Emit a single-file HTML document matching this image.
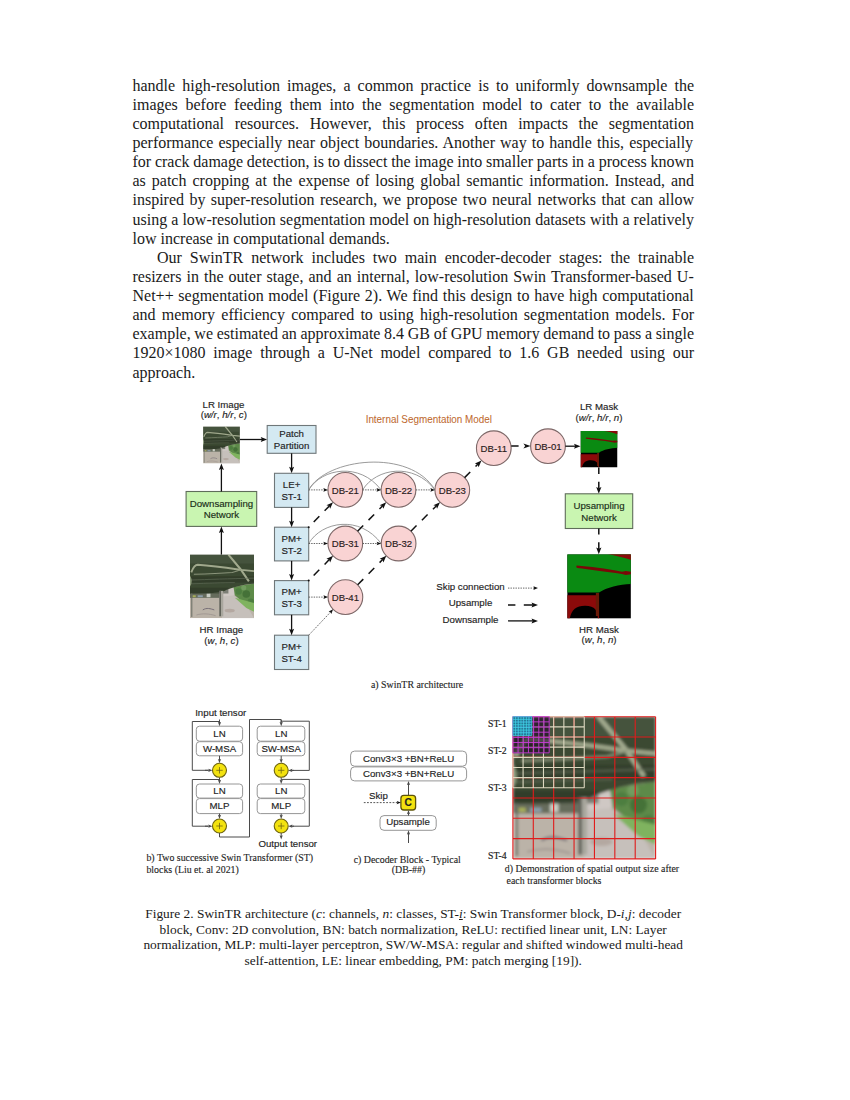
<!DOCTYPE html>
<html><head><meta charset="utf-8">
<style>
html,body{margin:0;padding:0;background:#fff;}
body{width:850px;height:1100px;position:relative;overflow:hidden;}
#txt{position:absolute;left:132.5px;top:0;width:561.5px;}
.ln{position:absolute;left:0;white-space:nowrap;font-family:"Liberation Serif",serif;font-size:16px;line-height:19.13px;color:#1a1a1a;}
#cap{position:absolute;left:0;top:0;width:826.4px;}
.cl{position:absolute;left:0;width:826.4px;text-align:center;white-space:nowrap;font-family:"Liberation Serif",serif;font-size:13.4px;line-height:15.4px;color:#1a1a1a;}
svg{position:absolute;left:0;top:0;}
</style></head><body>
<div id="txt">
<div class="ln" style="top:75.60px;word-spacing:3.052px;">handle high-resolution images, a common practice is to uniformly downsample the</div>
<div class="ln" style="top:94.73px;word-spacing:3.696px;">images before feeding them into the segmentation model to cater to the available</div>
<div class="ln" style="top:113.86px;word-spacing:6.619px;">computational resources. However, this process often impacts the segmentation</div>
<div class="ln" style="top:132.99px;word-spacing:1.06px;">performance especially near object boundaries. Another way to handle this, especially</div>
<div class="ln" style="top:152.12px;word-spacing:-0.244px;">for crack damage detection, is to dissect the image into smaller parts in a process known</div>
<div class="ln" style="top:171.25px;word-spacing:1.99px;">as patch cropping at the expense of losing global semantic information. Instead, and</div>
<div class="ln" style="top:190.38px;word-spacing:1.393px;">inspired by super-resolution research, we propose two neural networks that can allow</div>
<div class="ln" style="top:209.51px;word-spacing:0.073px;">using a low-resolution segmentation model on high-resolution datasets with a relatively</div>
<div class="ln" style="top:228.64px;">low increase in computational demands.</div>
<div class="ln" style="top:247.77px;left:24.5px;word-spacing:3.966px;">Our SwinTR network includes two main encoder-decoder stages: the trainable</div>
<div class="ln" style="top:266.90px;word-spacing:1.081px;">resizers in the outer stage, and an internal, low-resolution Swin Transformer-based U-</div>
<div class="ln" style="top:286.03px;word-spacing:0.701px;">Net++ segmentation model (Figure 2). We find this design to have high computational</div>
<div class="ln" style="top:305.16px;word-spacing:2.188px;">and memory efficiency compared to using high-resolution segmentation models. For</div>
<div class="ln" style="top:324.29px;word-spacing:-0.328px;">example, we estimated an approximate 8.4 GB of GPU memory demand to pass a single</div>
<div class="ln" style="top:343.42px;word-spacing:3.79px;">1920×1080 image through a U-Net model compared to 1.6 GB needed using our</div>
<div class="ln" style="top:362.55px;">approach.</div>
</div>
<div id="cap">
<div class="cl" style="top:906.3px;">Figure 2. SwinTR architecture (<i>c</i>: channels, <i>n</i>: classes, ST-<i style="text-decoration:underline">i</i>: Swin Transformer block, D-<i>i</i>,<i>j</i>: decoder</div>
<div class="cl" style="top:921.7px;">block, Conv: 2D convolution, BN: batch normalization, ReLU: rectified linear unit, LN: Layer</div>
<div class="cl" style="top:937.1px;">normalization, MLP: multi-layer perceptron, SW/W-MSA: regular and shifted windowed multi-head</div>
<div class="cl" style="top:952.5px;">self-attention, LE: linear embedding, PM: patch merging [19]).</div>
</div>
<svg id="fig" width="850" height="1100" viewBox="0 0 850 1100" font-family="Liberation Sans, sans-serif">
<defs>
<filter id="pblur" x="0" y="0" width="1" height="1"><feGaussianBlur stdDeviation="1.1"/></filter>
<linearGradient id="ug" x1="0" y1="0" x2="0" y2="1"><stop offset="0" stop-color="#4c5843"/><stop offset="1" stop-color="#28331f"/></linearGradient>
<symbol id="photo" viewBox="0 0 100 100" preserveAspectRatio="none"><g filter="url(#pblur)">
<rect width="100" height="100" fill="#bbb3a8"/>
<path d="M50,100 L50,62 L64,60 L92,86 L100,100 Z" fill="#c6c0bb"/>
<path d="M52,58 C58,54 64,52 70,51 L70,64 L52,66 Z" fill="#cfc8c4"/>
<path d="M68,51 C80,49 90,47 100,46 L100,88 L92,84 L80,72 L70,64 Z" fill="#5d8a4a"/>
<circle cx="76" cy="58" r="5" fill="#4a7a3c" opacity="0.8"/>
<circle cx="88" cy="62" r="6" fill="#3f6c34" opacity="0.8"/>
<circle cx="95" cy="74" r="5" fill="#4a7a3c" opacity="0.8"/>
<circle cx="84" cy="52" r="4" fill="#7aa466" opacity="0.7"/>
<path d="M70,68 L100,76 L100,90 L88,84 Z" fill="#7fb35e"/>
<rect x="0" y="60" width="46" height="8" fill="#666c5c"/>
<rect x="4" y="64" width="5" height="3" fill="#a9b05a"/>
<rect x="12" y="64" width="8" height="3" fill="#8ea0ac"/>
<rect x="26" y="61" width="6" height="6" fill="#c9cdc4"/>
<path d="M0,0 H100 V46 C84,47 66,51 52,58 C45,60.5 30,61 0,61 Z" fill="#3b4832"/>
<path d="M0,0 H100 V14 H0 Z" fill="#485540" opacity="0.8"/>
<path d="M0,34 H100 V44 H0 Z" fill="#2c3526" opacity="0.55"/>
<path d="M0,52 H60 V61 H0 Z" fill="#2a3323" opacity="0.5"/>
<path d="M2,28 C5,20 8,16 12,16 C40,18 66,22 80,24 L100,26" stroke="#a0a88c" stroke-width="3" fill="none"/>
<path d="M60,0 L79,23 L92,42" stroke="#a2aa8e" stroke-width="3.2" fill="none"/>
<path d="M6,31 C30,30 50,29 66,28 L80,24" stroke="#8a947a" stroke-width="1.6" fill="none"/>
<path d="M0,40 C30,39 60,38 100,37" stroke="#5f6a55" stroke-width="1.1" fill="none"/>
<path d="M0,46 C30,45 50,44 70,44" stroke="#5f6a55" stroke-width="1" fill="none"/>
<path d="M0,33 C3,38 4,44 0,50 Z" fill="#8b9b7b"/>
<path d="M46,57 H52 V97 H46 Z" fill="#a9a79e"/>
<path d="M46,57 H48.2 V97 H46 Z" fill="#55574f"/>
<rect x="2" y="61" width="1.6" height="37" fill="#6a6e64"/>
<path d="M20,87 C26,83 32,85 38,87" stroke="#6e6670" stroke-width="1.4" fill="none"/>
<path d="M10,95 C20,92 30,93 40,96" stroke="#9a908c" stroke-width="1.2" fill="none"/>
<ellipse cx="62" cy="88" rx="8" ry="3" fill="#a89890" opacity="0.6"/>
</g></symbol>
<symbol id="mask" viewBox="0 0 100 100" preserveAspectRatio="none">
<rect width="100" height="100" fill="#000"/>
<path d="M0,0 H100 V46 C82,47 62,51 50,59.5 L0,59.5 Z" fill="#0a8a12"/>
<path d="M64,0 H100 V9 C90,5 75,2 64,0 Z" fill="#8a0a0a"/>
<path d="M15,17.5 C35,19 60,22 86,27 L92,26 L100,27 L100,31 L92,32 L86,30.5 C60,27 35,24 16,21.5 C14,20.5 14,19 15,17.5 Z" fill="#7a0808"/>
<path d="M0,63.5 H50 V100 H48 C48,88 44,80 28,80 C14,80 7,86 4,100 H0 Z" fill="#8c0a0a"/>
<path d="M45,60 H50 V96 H45 Z" fill="#6a1a08"/>
</symbol>
</defs>
<text x="0" y="0" transform="translate(223.50,407.60) scale(1,1.03)" font-size="9.7" fill="#1e1e1e" stroke="#1e1e1e" stroke-width="0.15" text-anchor="middle" >LR Image</text>
<text x="0" y="0" transform="translate(223.80,417.90) scale(1,1.03)" font-size="9.7" fill="#1e1e1e" stroke="#1e1e1e" stroke-width="0.15" text-anchor="middle" >(<tspan font-style="italic">w/r</tspan>, <tspan font-style="italic">h/r</tspan>, <tspan font-style="italic">c</tspan>)</text>
<use href="#photo" x="203.1" y="426.5" width="36.8" height="37"/>
<line x1="240.00" y1="439.50" x2="262.40" y2="439.50" stroke="#111" stroke-width="1.3"/>
<path d="M267.20,439.50 L260.70,442.00 L261.90,439.50 L260.70,437.00 Z" fill="#111"/>
<rect x="267.20" y="425.50" width="48.80" height="27.80" rx="0" fill="#d4e9f2" stroke="#6f7779" stroke-width="1.1"/>
<text x="0" y="0" transform="translate(291.60,436.80) scale(1,1.03)" font-size="9.7" fill="#1e1e1e" stroke="#1e1e1e" stroke-width="0.15" text-anchor="middle" >Patch</text>
<text x="0" y="0" transform="translate(291.60,448.90) scale(1,1.03)" font-size="9.7" fill="#1e1e1e" stroke="#1e1e1e" stroke-width="0.15" text-anchor="middle" >Partition</text>
<line x1="291.60" y1="453.30" x2="291.60" y2="468.50" stroke="#111" stroke-width="1.3"/>
<path d="M291.60,473.30 L289.10,466.80 L291.60,468.00 L294.10,466.80 Z" fill="#111"/>
<rect x="274.50" y="473.30" width="34.20" height="34.10" rx="0" fill="#d4e9f2" stroke="#6f7779" stroke-width="1.1"/>
<text x="0" y="0" transform="translate(291.60,487.60) scale(1,1.03)" font-size="9.7" fill="#1e1e1e" stroke="#1e1e1e" stroke-width="0.15" text-anchor="middle" >LE+</text>
<text x="0" y="0" transform="translate(291.60,499.80) scale(1,1.03)" font-size="9.7" fill="#1e1e1e" stroke="#1e1e1e" stroke-width="0.15" text-anchor="middle" >ST-1</text>
<rect x="274.50" y="527.20" width="34.20" height="33.70" rx="0" fill="#d4e9f2" stroke="#6f7779" stroke-width="1.1"/>
<text x="0" y="0" transform="translate(291.60,541.50) scale(1,1.03)" font-size="9.7" fill="#1e1e1e" stroke="#1e1e1e" stroke-width="0.15" text-anchor="middle" >PM+</text>
<text x="0" y="0" transform="translate(291.60,553.70) scale(1,1.03)" font-size="9.7" fill="#1e1e1e" stroke="#1e1e1e" stroke-width="0.15" text-anchor="middle" >ST-2</text>
<rect x="274.50" y="580.60" width="34.20" height="34.20" rx="0" fill="#d4e9f2" stroke="#6f7779" stroke-width="1.1"/>
<text x="0" y="0" transform="translate(291.60,594.90) scale(1,1.03)" font-size="9.7" fill="#1e1e1e" stroke="#1e1e1e" stroke-width="0.15" text-anchor="middle" >PM+</text>
<text x="0" y="0" transform="translate(291.60,607.10) scale(1,1.03)" font-size="9.7" fill="#1e1e1e" stroke="#1e1e1e" stroke-width="0.15" text-anchor="middle" >ST-3</text>
<rect x="274.50" y="635.20" width="34.20" height="34.30" rx="0" fill="#d4e9f2" stroke="#6f7779" stroke-width="1.1"/>
<text x="0" y="0" transform="translate(291.60,649.50) scale(1,1.03)" font-size="9.7" fill="#1e1e1e" stroke="#1e1e1e" stroke-width="0.15" text-anchor="middle" >PM+</text>
<text x="0" y="0" transform="translate(291.60,661.70) scale(1,1.03)" font-size="9.7" fill="#1e1e1e" stroke="#1e1e1e" stroke-width="0.15" text-anchor="middle" >ST-4</text>
<line x1="291.60" y1="507.40" x2="291.60" y2="522.40" stroke="#111" stroke-width="1.3"/>
<path d="M291.60,527.20 L289.10,520.70 L291.60,521.90 L294.10,520.70 Z" fill="#111"/>
<line x1="291.60" y1="560.90" x2="291.60" y2="575.80" stroke="#111" stroke-width="1.3"/>
<path d="M291.60,580.60 L289.10,574.10 L291.60,575.30 L294.10,574.10 Z" fill="#111"/>
<line x1="291.60" y1="614.80" x2="291.60" y2="630.40" stroke="#111" stroke-width="1.3"/>
<path d="M291.60,635.20 L289.10,628.70 L291.60,629.90 L294.10,628.70 Z" fill="#111"/>
<rect x="186.10" y="491.50" width="70.60" height="34.90" rx="0" fill="#c9f5b1" stroke="#5f6d5a" stroke-width="1.1"/>
<text x="0" y="0" transform="translate(221.40,506.60) scale(1,1.03)" font-size="9.7" fill="#1a2e18" stroke="#1a2e18" stroke-width="0.15" text-anchor="middle" >Downsampling</text>
<text x="0" y="0" transform="translate(221.40,518.40) scale(1,1.03)" font-size="9.7" fill="#1a2e18" stroke="#1a2e18" stroke-width="0.15" text-anchor="middle" >Network</text>
<line x1="221.40" y1="491.50" x2="221.40" y2="468.30" stroke="#111" stroke-width="1.3"/>
<path d="M221.40,463.50 L223.90,470.00 L221.40,468.80 L218.90,470.00 Z" fill="#111"/>
<use href="#photo" x="190" y="554.6" width="64" height="63.6"/>
<line x1="221.40" y1="554.60" x2="221.40" y2="531.20" stroke="#111" stroke-width="1.3"/>
<path d="M221.40,526.40 L223.90,532.90 L221.40,531.70 L218.90,532.90 Z" fill="#111"/>
<text x="0" y="0" transform="translate(221.40,633.40) scale(1,1.03)" font-size="9.7" fill="#1e1e1e" stroke="#1e1e1e" stroke-width="0.15" text-anchor="middle" >HR Image</text>
<text x="0" y="0" transform="translate(221.40,644.00) scale(1,1.03)" font-size="9.7" fill="#1e1e1e" stroke="#1e1e1e" stroke-width="0.15" text-anchor="middle" >(<tspan font-style="italic">w</tspan>, <tspan font-style="italic">h</tspan>, <tspan font-style="italic">c</tspan>)</text>
<path d="M308.7,489.9 C326,458 410,448 435,489.9" stroke="#959595" stroke-width="0.95" fill="none"/>
<path d="M308.7,489.9 C322,468 360,462 381.1,489.9" stroke="#959595" stroke-width="0.95" fill="none"/>
<path d="M362.6,489.9 C376,468 414,462 435,489.9" stroke="#959595" stroke-width="0.95" fill="none"/>
<path d="M308.7,543.5 C322,521 360,515 381.2,543.5" stroke="#959595" stroke-width="0.95" fill="none"/>
<circle cx="345.30" cy="489.90" r="17.35" fill="#f9d3d3" stroke="#7d6868" stroke-width="1.1"/>
<text x="0" y="0" transform="translate(345.30,493.50) scale(1,1.03)" font-size="9.6" fill="#2a1c1c" stroke="#2a1c1c" stroke-width="0.15" text-anchor="middle" >DB-21</text>
<circle cx="398.50" cy="489.90" r="17.35" fill="#f9d3d3" stroke="#7d6868" stroke-width="1.1"/>
<text x="0" y="0" transform="translate(398.50,493.50) scale(1,1.03)" font-size="9.6" fill="#2a1c1c" stroke="#2a1c1c" stroke-width="0.15" text-anchor="middle" >DB-22</text>
<circle cx="452.30" cy="489.90" r="17.35" fill="#f9d3d3" stroke="#7d6868" stroke-width="1.1"/>
<text x="0" y="0" transform="translate(452.30,493.50) scale(1,1.03)" font-size="9.6" fill="#2a1c1c" stroke="#2a1c1c" stroke-width="0.15" text-anchor="middle" >DB-23</text>
<circle cx="345.30" cy="543.50" r="17.35" fill="#f9d3d3" stroke="#7d6868" stroke-width="1.1"/>
<text x="0" y="0" transform="translate(345.30,547.10) scale(1,1.03)" font-size="9.6" fill="#2a1c1c" stroke="#2a1c1c" stroke-width="0.15" text-anchor="middle" >DB-31</text>
<circle cx="398.60" cy="543.50" r="17.35" fill="#f9d3d3" stroke="#7d6868" stroke-width="1.1"/>
<text x="0" y="0" transform="translate(398.60,547.10) scale(1,1.03)" font-size="9.6" fill="#2a1c1c" stroke="#2a1c1c" stroke-width="0.15" text-anchor="middle" >DB-32</text>
<circle cx="345.40" cy="597.10" r="17.35" fill="#f9d3d3" stroke="#7d6868" stroke-width="1.1"/>
<text x="0" y="0" transform="translate(345.40,600.70) scale(1,1.03)" font-size="9.6" fill="#2a1c1c" stroke="#2a1c1c" stroke-width="0.15" text-anchor="middle" >DB-41</text>
<circle cx="493.80" cy="448.20" r="17.35" fill="#f9d3d3" stroke="#7d6868" stroke-width="1.1"/>
<text x="0" y="0" transform="translate(493.80,451.80) scale(1,1.03)" font-size="9.6" fill="#2a1c1c" stroke="#2a1c1c" stroke-width="0.15" text-anchor="middle" >DB-11</text>
<circle cx="548.00" cy="446.20" r="17.35" fill="#f9d3d3" stroke="#7d6868" stroke-width="1.1"/>
<text x="0" y="0" transform="translate(548.00,449.80) scale(1,1.03)" font-size="9.6" fill="#2a1c1c" stroke="#2a1c1c" stroke-width="0.15" text-anchor="middle" >DB-01</text>
<line x1="308.70" y1="489.90" x2="324.35" y2="489.90" stroke="#4a4a4a" stroke-width="0.85" stroke-dasharray="1.4 1.1"/>
<path d="M327.95,489.90 L323.35,491.70 L324.15,489.90 L323.35,488.10 Z" fill="#111"/>
<line x1="362.65" y1="489.90" x2="377.55" y2="489.90" stroke="#4a4a4a" stroke-width="0.85" stroke-dasharray="1.4 1.1"/>
<path d="M381.15,489.90 L376.55,491.70 L377.35,489.90 L376.55,488.10 Z" fill="#111"/>
<line x1="415.85" y1="489.90" x2="431.35" y2="489.90" stroke="#4a4a4a" stroke-width="0.85" stroke-dasharray="1.4 1.1"/>
<path d="M434.95,489.90 L430.35,491.70 L431.15,489.90 L430.35,488.10 Z" fill="#111"/>
<line x1="308.70" y1="543.50" x2="324.35" y2="543.50" stroke="#4a4a4a" stroke-width="0.85" stroke-dasharray="1.4 1.1"/>
<path d="M327.95,543.50 L323.35,545.30 L324.15,543.50 L323.35,541.70 Z" fill="#111"/>
<line x1="362.65" y1="543.50" x2="377.65" y2="543.50" stroke="#4a4a4a" stroke-width="0.85" stroke-dasharray="1.4 1.1"/>
<path d="M381.25,543.50 L376.65,545.30 L377.45,543.50 L376.65,541.70 Z" fill="#111"/>
<line x1="308.70" y1="597.10" x2="324.45" y2="597.10" stroke="#4a4a4a" stroke-width="0.85" stroke-dasharray="1.4 1.1"/>
<path d="M328.05,597.10 L323.45,598.90 L324.25,597.10 L323.45,595.30 Z" fill="#111"/>
<line x1="308.70" y1="635.20" x2="330.66" y2="611.98" stroke="#4a4a4a" stroke-width="0.85" stroke-dasharray="1.4 1.1"/>
<path d="M333.13,609.37 L331.28,613.95 L330.52,612.13 L328.66,611.47 Z" fill="#111"/>
<circle cx="308.7" cy="527.2" r="1" fill="#111"/><circle cx="308.7" cy="580.6" r="1" fill="#111"/>
<line x1="313.74" y1="522.02" x2="319.31" y2="516.28" stroke="#111" stroke-width="1.5"/>
<line x1="324.61" y1="510.83" x2="329.34" y2="505.97" stroke="#111" stroke-width="1.5"/>
<path d="M333.03,502.17 L330.16,508.86 L329.20,506.11 L326.43,505.23 Z" fill="#111"/>
<line x1="313.66" y1="575.54" x2="319.26" y2="569.82" stroke="#111" stroke-width="1.5"/>
<line x1="324.58" y1="564.40" x2="329.32" y2="559.55" stroke="#111" stroke-width="1.5"/>
<path d="M333.03,555.77 L330.13,562.44 L329.18,559.70 L326.42,558.81 Z" fill="#111"/>
<line x1="357.57" y1="531.23" x2="363.19" y2="525.54" stroke="#111" stroke-width="1.5"/>
<line x1="368.52" y1="520.12" x2="374.14" y2="514.43" stroke="#111" stroke-width="1.5"/>
<line x1="379.48" y1="509.02" x2="382.51" y2="505.94" stroke="#111" stroke-width="1.5"/>
<path d="M386.23,502.17 L383.31,508.84 L382.37,506.08 L379.61,505.18 Z" fill="#111"/>
<line x1="357.67" y1="584.83" x2="363.29" y2="579.14" stroke="#111" stroke-width="1.5"/>
<line x1="368.62" y1="573.72" x2="374.24" y2="568.03" stroke="#111" stroke-width="1.5"/>
<line x1="379.58" y1="562.62" x2="382.61" y2="559.54" stroke="#111" stroke-width="1.5"/>
<path d="M386.33,555.77 L383.41,562.44 L382.47,559.68 L379.71,558.78 Z" fill="#111"/>
<line x1="410.87" y1="531.23" x2="416.53" y2="525.58" stroke="#111" stroke-width="1.5"/>
<line x1="421.92" y1="520.22" x2="427.58" y2="514.57" stroke="#111" stroke-width="1.5"/>
<line x1="432.97" y1="509.21" x2="436.28" y2="505.91" stroke="#111" stroke-width="1.5"/>
<path d="M440.03,502.17 L437.05,508.81 L436.14,506.05 L433.38,505.13 Z" fill="#111"/>
<line x1="464.57" y1="477.63" x2="470.19" y2="471.94" stroke="#111" stroke-width="1.5"/>
<line x1="475.53" y1="466.54" x2="477.81" y2="464.24" stroke="#111" stroke-width="1.5"/>
<path d="M481.53,460.47 L478.60,467.13 L477.67,464.38 L474.90,463.48 Z" fill="#111"/>
<line x1="511.2" y1="446.0" x2="518.6" y2="446.0" stroke="#111" stroke-width="1.5"/>
<path d="M530.60,446.00 L523.40,448.60 L525.20,446.00 L523.40,443.40 Z" fill="#111"/>
<line x1="565.35" y1="446.20" x2="575.70" y2="446.20" stroke="#111" stroke-width="1.3"/>
<path d="M580.50,446.20 L574.00,448.70 L575.20,446.20 L574.00,443.70 Z" fill="#111"/>
<text x="0" y="0" transform="translate(428.80,423.30) scale(1,1.03)" font-size="9.9" fill="#c06a30" stroke="#c06a30" stroke-width="0.05" text-anchor="middle" >Internal Segmentation Model</text>
<text x="0" y="0" transform="translate(599.00,409.80) scale(1,1.03)" font-size="9.7" fill="#1e1e1e" stroke="#1e1e1e" stroke-width="0.15" text-anchor="middle" >LR Mask</text>
<text x="0" y="0" transform="translate(599.00,420.60) scale(1,1.03)" font-size="9.7" fill="#1e1e1e" stroke="#1e1e1e" stroke-width="0.15" text-anchor="middle" >(<tspan font-style="italic">w/r</tspan>, <tspan font-style="italic">h/r</tspan>, <tspan font-style="italic">n</tspan>)</text>
<use href="#mask" x="580.5" y="431" width="37" height="36.5"/>
<line x1="598.80" y1="467.50" x2="598.80" y2="474.12" stroke="#111" stroke-width="1.5"/>
<line x1="598.80" y1="481.72" x2="598.80" y2="488.50" stroke="#111" stroke-width="1.5"/>
<path d="M598.80,493.80 L596.20,487.00 L598.80,488.30 L601.40,487.00 Z" fill="#111"/>
<rect x="565.30" y="493.80" width="67.40" height="34.70" rx="0" fill="#c9f5b1" stroke="#5f6d5a" stroke-width="1.1"/>
<text x="0" y="0" transform="translate(599.00,508.80) scale(1,1.03)" font-size="9.7" fill="#1a2e18" stroke="#1a2e18" stroke-width="0.15" text-anchor="middle" >Upsampling</text>
<text x="0" y="0" transform="translate(599.00,520.60) scale(1,1.03)" font-size="9.7" fill="#1a2e18" stroke="#1a2e18" stroke-width="0.15" text-anchor="middle" >Network</text>
<line x1="598.80" y1="528.50" x2="598.80" y2="534.62" stroke="#111" stroke-width="1.5"/>
<line x1="598.80" y1="542.22" x2="598.80" y2="549.00" stroke="#111" stroke-width="1.5"/>
<path d="M598.80,554.30 L596.20,547.50 L598.80,548.80 L601.40,547.50 Z" fill="#111"/>
<use href="#mask" x="567.2" y="554.3" width="63.7" height="64.3"/>
<text x="0" y="0" transform="translate(599.00,632.90) scale(1,1.03)" font-size="9.7" fill="#1e1e1e" stroke="#1e1e1e" stroke-width="0.15" text-anchor="middle" >HR Mask</text>
<text x="0" y="0" transform="translate(599.00,642.50) scale(1,1.03)" font-size="9.7" fill="#1e1e1e" stroke="#1e1e1e" stroke-width="0.15" text-anchor="middle" >(<tspan font-style="italic">w</tspan>, <tspan font-style="italic">h</tspan>, <tspan font-style="italic">n</tspan>)</text>
<text x="0" y="0" transform="translate(470.50,590.10) scale(1,1.03)" font-size="9.7" fill="#1e1e1e" stroke="#1e1e1e" stroke-width="0.15" text-anchor="middle" >Skip connection</text>
<text x="0" y="0" transform="translate(470.50,606.00) scale(1,1.03)" font-size="9.7" fill="#1e1e1e" stroke="#1e1e1e" stroke-width="0.15" text-anchor="middle" >Upsample</text>
<text x="0" y="0" transform="translate(470.50,622.60) scale(1,1.03)" font-size="9.7" fill="#1e1e1e" stroke="#1e1e1e" stroke-width="0.15" text-anchor="middle" >Downsample</text>
<line x1="508.00" y1="588.10" x2="534.40" y2="588.10" stroke="#4a4a4a" stroke-width="0.85" stroke-dasharray="1.4 1.1"/>
<path d="M538.00,588.10 L533.40,589.90 L534.20,588.10 L533.40,586.30 Z" fill="#111"/>
<line x1="508" y1="605" x2="515.4" y2="605" stroke="#111" stroke-width="1.5"/>
<line x1="523.80" y1="605.00" x2="533.20" y2="605.00" stroke="#111" stroke-width="1.5"/>
<path d="M538.00,605.00 L531.50,607.50 L532.70,605.00 L531.50,602.50 Z" fill="#111"/>
<line x1="508.00" y1="620.90" x2="533.20" y2="620.90" stroke="#111" stroke-width="1.3"/>
<path d="M538.00,620.90 L531.50,623.40 L532.70,620.90 L531.50,618.40 Z" fill="#111"/>
<text x="417" y="687.8" font-size="9.9" fill="#1e1e1e" stroke="#1e1e1e" stroke-width="0.12" text-anchor="middle" font-family="Liberation Serif, serif">a) SwinTR architecture</text>
<text x="0" y="0" transform="translate(220.75,716.30) scale(1,1.03)" font-size="9.7" fill="#1e1e1e" stroke="#1e1e1e" stroke-width="0.15" text-anchor="middle" >Input tensor</text>
<rect x="196.30" y="726.20" width="46.30" height="15.00" rx="3.2" fill="#fff" stroke="#969696" stroke-width="1"/>
<rect x="196.30" y="741.70" width="46.30" height="14.10" rx="3.2" fill="#fff" stroke="#969696" stroke-width="1"/>
<text x="0" y="0" transform="translate(219.50,736.50) scale(1,1.03)" font-size="9.7" fill="#1e1e1e" stroke="#1e1e1e" stroke-width="0.15" text-anchor="middle" >LN</text>
<text x="0" y="0" transform="translate(219.50,751.60) scale(1,1.03)" font-size="9.7" fill="#1e1e1e" stroke="#1e1e1e" stroke-width="0.15" text-anchor="middle" >W-MSA</text>
<rect x="196.30" y="784.00" width="46.30" height="14.10" rx="3.2" fill="#fff" stroke="#969696" stroke-width="1"/>
<rect x="196.30" y="798.60" width="46.30" height="15.00" rx="3.2" fill="#fff" stroke="#969696" stroke-width="1"/>
<text x="0" y="0" transform="translate(219.50,794.40) scale(1,1.03)" font-size="9.7" fill="#1e1e1e" stroke="#1e1e1e" stroke-width="0.15" text-anchor="middle" >LN</text>
<text x="0" y="0" transform="translate(219.50,809.40) scale(1,1.03)" font-size="9.7" fill="#1e1e1e" stroke="#1e1e1e" stroke-width="0.15" text-anchor="middle" >MLP</text>
<line x1="219.50" y1="755.80" x2="219.50" y2="760.20" stroke="#4a4a4a" stroke-width="1.0"/>
<path d="M219.50,763.30 L217.90,759.10 L219.50,759.70 L221.10,759.10 Z" fill="#4a4a4a"/>
<line x1="219.50" y1="777.30" x2="219.50" y2="780.90" stroke="#4a4a4a" stroke-width="1.0"/>
<path d="M219.50,784.00 L217.90,779.80 L219.50,780.40 L221.10,779.80 Z" fill="#4a4a4a"/>
<line x1="219.50" y1="813.60" x2="219.50" y2="815.90" stroke="#4a4a4a" stroke-width="1.0"/>
<path d="M219.50,819.00 L217.90,814.80 L219.50,815.40 L221.10,814.80 Z" fill="#4a4a4a"/>
<circle cx="219.5" cy="770.3" r="7.0" fill="#f3e20f" stroke="#6e6410" stroke-width="1.1"/>
<path d="M216.3,770.3 H222.7 M219.5,767.0999999999999 V773.5" stroke="#6e6410" stroke-width="0.8"/>
<circle cx="219.5" cy="826.0" r="7.0" fill="#f3e20f" stroke="#6e6410" stroke-width="1.1"/>
<path d="M216.3,826.0 H222.7 M219.5,822.8 V829.2" stroke="#6e6410" stroke-width="0.8"/>
<rect x="257.20" y="726.20" width="47.60" height="15.00" rx="3.2" fill="#fff" stroke="#969696" stroke-width="1"/>
<rect x="257.20" y="741.70" width="47.60" height="14.10" rx="3.2" fill="#fff" stroke="#969696" stroke-width="1"/>
<text x="0" y="0" transform="translate(281.20,736.50) scale(1,1.03)" font-size="9.7" fill="#1e1e1e" stroke="#1e1e1e" stroke-width="0.15" text-anchor="middle" >LN</text>
<text x="0" y="0" transform="translate(281.20,751.60) scale(1,1.03)" font-size="9.7" fill="#1e1e1e" stroke="#1e1e1e" stroke-width="0.15" text-anchor="middle" >SW-MSA</text>
<rect x="257.20" y="784.00" width="47.60" height="14.10" rx="3.2" fill="#fff" stroke="#969696" stroke-width="1"/>
<rect x="257.20" y="798.60" width="47.60" height="15.00" rx="3.2" fill="#fff" stroke="#969696" stroke-width="1"/>
<text x="0" y="0" transform="translate(281.20,794.40) scale(1,1.03)" font-size="9.7" fill="#1e1e1e" stroke="#1e1e1e" stroke-width="0.15" text-anchor="middle" >LN</text>
<text x="0" y="0" transform="translate(281.20,809.40) scale(1,1.03)" font-size="9.7" fill="#1e1e1e" stroke="#1e1e1e" stroke-width="0.15" text-anchor="middle" >MLP</text>
<line x1="281.20" y1="755.80" x2="281.20" y2="760.20" stroke="#4a4a4a" stroke-width="1.0"/>
<path d="M281.20,763.30 L279.60,759.10 L281.20,759.70 L282.80,759.10 Z" fill="#4a4a4a"/>
<line x1="281.20" y1="777.30" x2="281.20" y2="780.90" stroke="#4a4a4a" stroke-width="1.0"/>
<path d="M281.20,784.00 L279.60,779.80 L281.20,780.40 L282.80,779.80 Z" fill="#4a4a4a"/>
<line x1="281.20" y1="813.60" x2="281.20" y2="815.90" stroke="#4a4a4a" stroke-width="1.0"/>
<path d="M281.20,819.00 L279.60,814.80 L281.20,815.40 L282.80,814.80 Z" fill="#4a4a4a"/>
<circle cx="281.2" cy="770.3" r="7.0" fill="#f3e20f" stroke="#6e6410" stroke-width="1.1"/>
<path d="M278.0,770.3 H284.4 M281.2,767.0999999999999 V773.5" stroke="#6e6410" stroke-width="0.8"/>
<circle cx="281.2" cy="826.0" r="7.0" fill="#f3e20f" stroke="#6e6410" stroke-width="1.1"/>
<path d="M278.0,826.0 H284.4 M281.2,822.8 V829.2" stroke="#6e6410" stroke-width="0.8"/>
<polyline points="219.50,719.50 219.50,721.50 192.30,721.50 192.30,770.30 208.00,770.30" fill="none" stroke="#4a4a4a" stroke-width="1.0"/>
<line x1="205.00" y1="770.30" x2="209.40" y2="770.30" stroke="#4a4a4a" stroke-width="1.0"/>
<path d="M212.50,770.30 L208.30,771.90 L208.90,770.30 L208.30,768.70 Z" fill="#4a4a4a"/>
<line x1="219.50" y1="721.00" x2="219.50" y2="723.10" stroke="#4a4a4a" stroke-width="1.0"/>
<path d="M219.50,726.20 L217.90,722.00 L219.50,722.60 L221.10,722.00 Z" fill="#4a4a4a"/>
<polyline points="219.50,779.50 192.30,779.50 192.30,826.20 208.00,826.20" fill="none" stroke="#4a4a4a" stroke-width="1.0"/>
<line x1="205.00" y1="826.20" x2="209.40" y2="826.20" stroke="#4a4a4a" stroke-width="1.0"/>
<path d="M212.50,826.20 L208.30,827.80 L208.90,826.20 L208.30,824.60 Z" fill="#4a4a4a"/>
<polyline points="219.50,833.00 219.50,837.00 249.50,837.00 249.50,719.50 281.20,719.50 281.20,722.00" fill="none" stroke="#4a4a4a" stroke-width="1.0"/>
<line x1="281.20" y1="720.00" x2="281.20" y2="723.10" stroke="#4a4a4a" stroke-width="1.0"/>
<path d="M281.20,726.20 L279.60,722.00 L281.20,722.60 L282.80,722.00 Z" fill="#4a4a4a"/>
<polyline points="281.20,721.20 309.30,721.20 309.30,770.40 292.00,770.40" fill="none" stroke="#4a4a4a" stroke-width="1.0"/>
<line x1="294.00" y1="770.40" x2="291.30" y2="770.40" stroke="#4a4a4a" stroke-width="1.0"/>
<path d="M288.20,770.40 L292.40,768.80 L291.80,770.40 L292.40,772.00 Z" fill="#4a4a4a"/>
<polyline points="281.20,779.40 309.30,779.40 309.30,826.20 292.00,826.20" fill="none" stroke="#4a4a4a" stroke-width="1.0"/>
<line x1="294.00" y1="826.20" x2="291.30" y2="826.20" stroke="#4a4a4a" stroke-width="1.0"/>
<path d="M288.20,826.20 L292.40,824.60 L291.80,826.20 L292.40,827.80 Z" fill="#4a4a4a"/>
<line x1="281.20" y1="833.00" x2="281.20" y2="836.40" stroke="#4a4a4a" stroke-width="1.0"/>
<path d="M281.20,839.50 L279.60,835.30 L281.20,835.90 L282.80,835.30 Z" fill="#4a4a4a"/>
<text x="0" y="0" transform="translate(287.75,846.70) scale(1,1.03)" font-size="9.7" fill="#1e1e1e" stroke="#1e1e1e" stroke-width="0.15" text-anchor="middle" >Output tensor</text>
<text x="146.4" y="860.8" font-size="9.9" fill="#1e1e1e" stroke="#1e1e1e" stroke-width="0.12" font-family="Liberation Serif, serif">b) Two successive Swin Transformer (ST)</text>
<text x="146.4" y="872.9" font-size="9.9" fill="#1e1e1e" stroke="#1e1e1e" stroke-width="0.12" font-family="Liberation Serif, serif">blocks (Liu et. al 2021)</text>
<rect x="350.60" y="751.10" width="116.00" height="15.10" rx="4" fill="#fff" stroke="#969696" stroke-width="1"/>
<rect x="350.60" y="766.90" width="116.00" height="14.00" rx="4" fill="#fff" stroke="#969696" stroke-width="1"/>
<text x="0" y="0" transform="translate(408.60,761.50) scale(1,1.03)" font-size="9.7" fill="#1e1e1e" stroke="#1e1e1e" stroke-width="0.15" text-anchor="middle" >Conv3×3 +BN+ReLU</text>
<text x="0" y="0" transform="translate(408.60,776.50) scale(1,1.03)" font-size="9.7" fill="#1e1e1e" stroke="#1e1e1e" stroke-width="0.15" text-anchor="middle" >Conv3×3 +BN+ReLU</text>
<line x1="408.50" y1="795.40" x2="408.50" y2="784.00" stroke="#4a4a4a" stroke-width="1.0"/>
<path d="M408.50,780.90 L410.10,785.10 L408.50,784.50 L406.90,785.10 Z" fill="#4a4a4a"/>
<rect x="400.9" y="795.4" width="14.7" height="14.6" rx="3" fill="#f3e20f" stroke="#5e5408" stroke-width="1.3"/>
<text x="0" y="0" transform="translate(408.30,806.40) scale(1,1.03)" font-size="10.2" fill="#222" stroke="#222" stroke-width="0.15" text-anchor="middle" font-weight="bold">C</text>
<text x="0" y="0" transform="translate(378.40,798.50) scale(1,1.03)" font-size="9.7" fill="#1e1e1e" stroke="#1e1e1e" stroke-width="0.15" text-anchor="middle" >Skip</text>
<line x1="363.80" y1="802.60" x2="397.70" y2="802.60" stroke="#444" stroke-width="0.9" stroke-dasharray="1.8 1.4"/>
<path d="M400.90,802.60 L396.70,804.20 L397.50,802.60 L396.70,801.00 Z" fill="#111"/>
<rect x="380.00" y="815.60" width="56.20" height="14.70" rx="4" fill="#fff" stroke="#969696" stroke-width="1"/>
<text x="0" y="0" transform="translate(408.00,825.00) scale(1,1.03)" font-size="9.7" fill="#1e1e1e" stroke="#1e1e1e" stroke-width="0.15" text-anchor="middle" >Upsample</text>
<line x1="408.50" y1="815.60" x2="408.50" y2="813.10" stroke="#4a4a4a" stroke-width="1.0"/>
<path d="M408.50,810.00 L410.10,814.20 L408.50,813.60 L406.90,814.20 Z" fill="#4a4a4a"/>
<line x1="408.50" y1="843.00" x2="408.50" y2="833.40" stroke="#4a4a4a" stroke-width="1.0"/>
<path d="M408.50,830.30 L410.10,834.50 L408.50,833.90 L406.90,834.50 Z" fill="#4a4a4a"/>
<text x="407.3" y="862.6" font-size="9.9" fill="#1e1e1e" stroke="#1e1e1e" stroke-width="0.12" text-anchor="middle" font-family="Liberation Serif, serif">c) Decoder Block - Typical</text>
<text x="408.5" y="873.4" font-size="9.9" fill="#1e1e1e" stroke="#1e1e1e" stroke-width="0.12" text-anchor="middle" font-family="Liberation Serif, serif">(DB-##)</text>
<text x="488" y="726.9" font-size="9.7" fill="#1e1e1e" stroke="#1e1e1e" stroke-width="0.2" font-family="Liberation Serif, serif">ST-1</text>
<text x="488" y="753.9" font-size="9.7" fill="#1e1e1e" stroke="#1e1e1e" stroke-width="0.2" font-family="Liberation Serif, serif">ST-2</text>
<text x="488" y="791.0" font-size="9.7" fill="#1e1e1e" stroke="#1e1e1e" stroke-width="0.2" font-family="Liberation Serif, serif">ST-3</text>
<text x="488" y="859.0" font-size="9.7" fill="#1e1e1e" stroke="#1e1e1e" stroke-width="0.2" font-family="Liberation Serif, serif">ST-4</text>
<use href="#photo" x="512.9" y="716.7" width="142.7" height="142.2"/>
<path d="M512.90,716.70V858.90M512.90,716.70H655.60M533.29,716.70V858.90M512.90,737.01H655.60M553.67,716.70V858.90M512.90,757.33H655.60M574.06,716.70V858.90M512.90,777.64H655.60M594.44,716.70V858.90M512.90,797.96H655.60M614.83,716.70V858.90M512.90,818.27H655.60M635.21,716.70V858.90M512.90,838.59H655.60M655.60,716.70V858.90M512.90,858.90H655.60" stroke="#e01c1c" stroke-width="1.1" fill="none" opacity="1.0"/>
<rect x="513.4" y="717.2" width="70.35" height="70.10" fill="none" stroke="none"/>
<path d="M512.90,716.70V787.80M512.90,716.70H584.25M523.09,716.70V787.80M512.90,726.86H584.25M533.29,716.70V787.80M512.90,737.01H584.25M543.48,716.70V787.80M512.90,747.17H584.25M553.67,716.70V787.80M512.90,757.33H584.25M563.86,716.70V787.80M512.90,767.49H584.25M574.06,716.70V787.80M512.90,777.64H584.25M584.25,716.70V787.80M512.90,787.80H584.25" stroke="#ddd8c0" stroke-width="1.1" fill="none" opacity="1.0"/>
<rect x="512.9" y="716.7" width="36.67" height="36.55" fill="#1a0020" opacity="0.55"/>
<path d="M512.90,716.70V752.85M512.90,716.70H549.17M518.08,716.70V752.85M512.90,721.86H549.17M523.26,716.70V752.85M512.90,727.03H549.17M528.45,716.70V752.85M512.90,732.19H549.17M533.63,716.70V752.85M512.90,737.36H549.17M538.81,716.70V752.85M512.90,742.52H549.17M543.99,716.70V752.85M512.90,747.69H549.17M549.17,716.70V752.85M512.90,752.85H549.17" stroke="#c93ad8" stroke-width="0.9" fill="none" opacity="1.0"/>
<rect x="512.9" y="716.7" width="18.84" height="18.77" fill="#1a8aa8" opacity="0.8"/>
<path d="M512.90,716.70V735.48M512.90,716.70H531.74M515.59,716.70V735.48M512.90,719.38H531.74M518.28,716.70V735.48M512.90,722.06H531.74M520.97,716.70V735.48M512.90,724.75H531.74M523.66,716.70V735.48M512.90,727.43H531.74M526.36,716.70V735.48M512.90,730.11H531.74M529.05,716.70V735.48M512.90,732.79H531.74M531.74,716.70V735.48M512.90,735.48H531.74" stroke="#40d8ec" stroke-width="0.7" fill="none" opacity="1.0"/>
<text x="504.7" y="871.5" font-size="9.9" fill="#1e1e1e" stroke="#1e1e1e" stroke-width="0.12" font-family="Liberation Serif, serif">d) Demonstration of spatial output size after</text>
<text x="506.6" y="883.6" font-size="9.9" fill="#1e1e1e" stroke="#1e1e1e" stroke-width="0.12" font-family="Liberation Serif, serif">each transformer blocks</text>
</svg>
</body></html>
